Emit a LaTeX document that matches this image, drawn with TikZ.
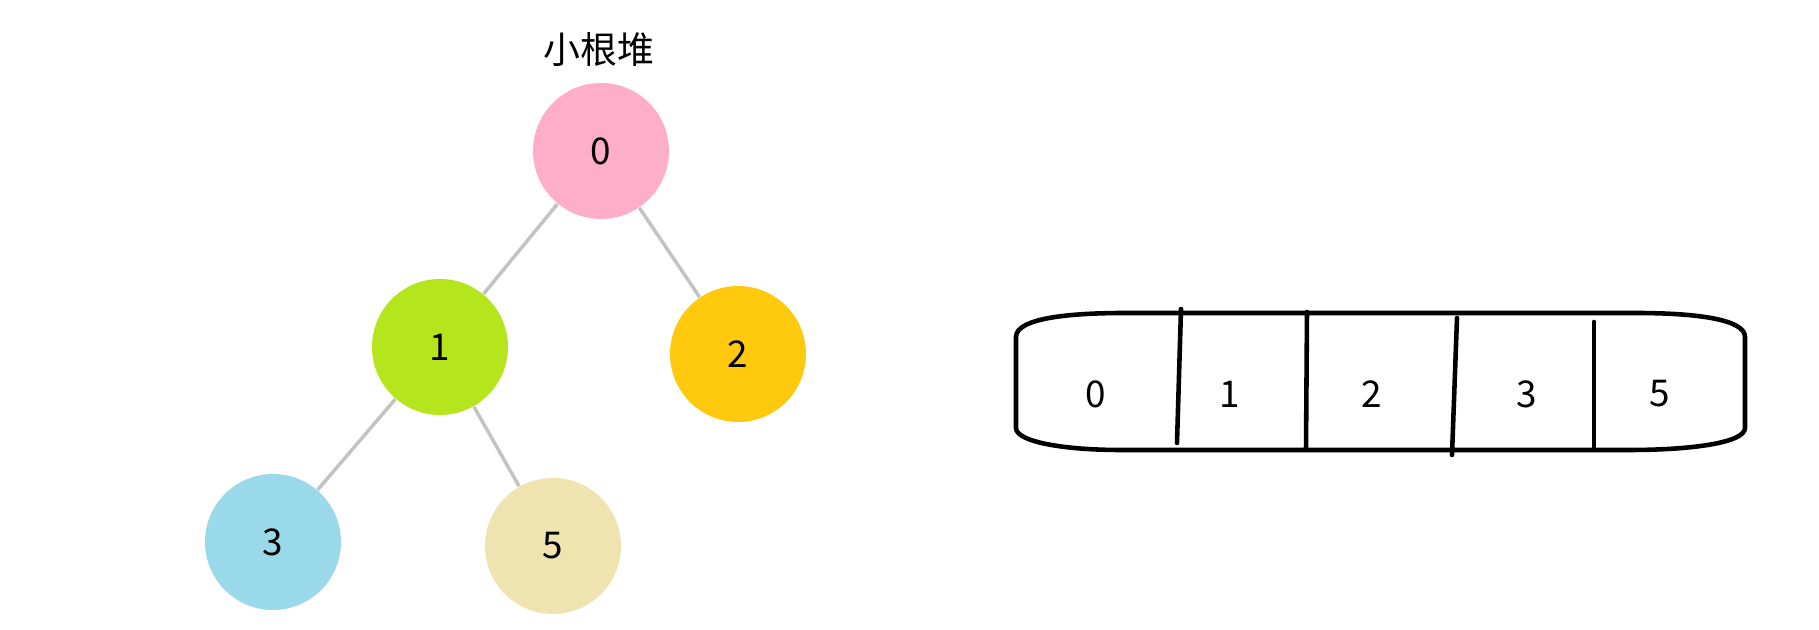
\documentclass[tikz,border=0pt]{standalone}
\usepackage{fontspec}
\setmainfont{Noto Sans CJK SC}
\usepackage{tikz}
\usetikzlibrary{positioning}
\definecolor{heappink}{RGB}{255,174,201}
\definecolor{heaplime}{RGB}{181,230,29}
\definecolor{heapgold}{RGB}{255,201,14}
\definecolor{heapsky}{RGB}{153,217,234}
\definecolor{heapsand}{RGB}{239,228,176}
\definecolor{edgegray}{RGB}{195,195,195}
\tikzset{
  heapnode/.style={circle, minimum size=1.36cm, inner sep=0pt, font=\fontsize{10.5}{12}\selectfont},
  treeln/.style={draw=edgegray, line width=1pt},
  arrayln/.style={line width=1.3pt, line cap=round, line join=round},
  cell/.style={font=\fontsize{10.5}{12}\selectfont, inner sep=0pt},
}

\begin{document}
\begin{tikzpicture}[x=0.1mm, y=-0.1mm]
    \useasboundingbox (0,0) rectangle (1819,630);
    % title
    \node[font=\fontsize{10.5}{12}\selectfont] (title) at (599,50) {小根堆};
    % tree
    \node[heapnode, fill=heappink] (n0) at (601,151) {0};
    \node[heapnode, fill=heaplime] (n1) at (440,347) {1};
    \node[heapnode, fill=heapgold] (n2) at (738,354) {2};
    \node[heapnode, fill=heapsky]  (n3) at (273,542) {3};
    \node[heapnode, fill=heapsand] (n5) at (553,546) {5};
    \draw[treeln] (n0) -- (n1);
    \draw[treeln] (n0) -- (n2);
    \draw[treeln] (n1) -- (n3);
    \draw[treeln] (n1) -- (n5);
    % array
    \draw[arrayln] (1016,337) .. controls (1016,318) and (1070,313) .. (1125,313)
      -- (1635,313) .. controls (1700,313) and (1745,320) .. (1745,337)
      -- (1745,428) .. controls (1745,443) and (1690,450) .. (1630,450)
      -- (1120,450) .. controls (1065,450) and (1016,442) .. (1016,428) -- cycle;
    \draw[arrayln] (1181,309) -- (1177,443);
    \draw[arrayln] (1307,312) -- (1306,450);
    \draw[arrayln] (1457,318) -- (1452,455);
    \draw[arrayln] (1594,322) -- (1594,448);
    \node[cell] (a0) at (1096,394) {0};
    \node[cell] (a1) at (1230,394) {1};
    \node[cell] (a2) at (1372,394) {2};
    \node[cell] (a3) at (1527,394) {3};
    \node[cell] (a4) at (1660,394) {5};
\end{tikzpicture}
\end{document}
